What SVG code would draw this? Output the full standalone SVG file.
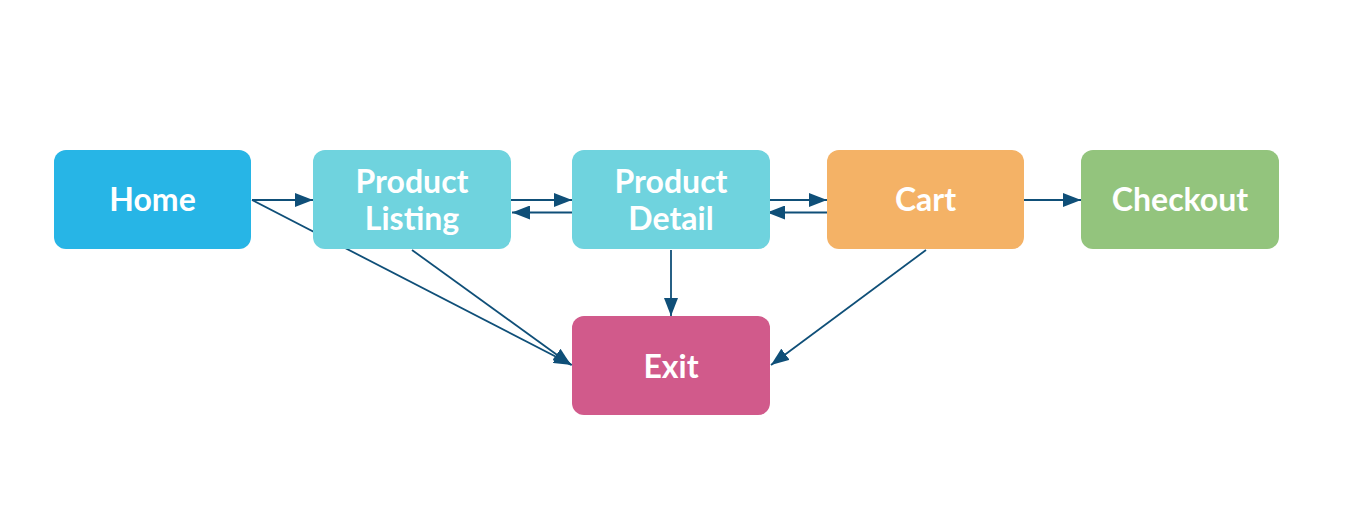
<svg xmlns="http://www.w3.org/2000/svg" width="1358" height="512" viewBox="0 0 1358 512">
<style>
.n rect{rx:12px;ry:12px}
.t{font-family:Lato,"Liberation Sans",sans-serif;font-weight:bold;font-size:32px;fill:#ffffff;text-anchor:middle}
.c line{stroke:#0f4f78;stroke-width:1.8;fill:none;marker-end:url(#ah)}
</style>
<defs>
<marker id="ah" viewBox="0 0 18 14" refX="18" refY="7" markerWidth="18" markerHeight="14" markerUnits="userSpaceOnUse" orient="auto">
<path d="M0,0 L18,7 L0,14 Z" fill="#0f4f78"/>
</marker>
</defs>
<rect width="1358" height="512" fill="#ffffff"/>
<g id="connectors" class="c">
<line x1="252" y1="200" x2="572" y2="365"/>
<line x1="412" y1="250" x2="571" y2="365"/>
<line x1="252" y1="200" x2="313" y2="200"/>
<line x1="511" y1="200" x2="572" y2="200"/>
<line x1="572" y1="212.5" x2="512" y2="212.5"/>
<line x1="770" y1="200" x2="827" y2="200"/>
<line x1="827" y1="212.5" x2="767" y2="212.5"/>
<line x1="1020" y1="200" x2="1081" y2="200"/>
<line x1="671" y1="250" x2="671" y2="316"/>
<line x1="926" y1="250" x2="771" y2="365"/>
</g>
<g id="home" class="n"><rect x="54" y="150" width="197" height="99" fill="#27b5e6"/><text class="t" x="152.5" y="211">Home</text></g>
<g id="product-listing" class="n"><rect x="313" y="150" width="198" height="99" fill="#6fd3de"/><text class="t" x="412" y="193">Product</text><text class="t" x="412" y="230">Listing</text></g>
<g id="product-detail" class="n"><rect x="572" y="150" width="198" height="99" fill="#6fd3de"/><text class="t" x="671" y="193">Product</text><text class="t" x="671" y="230">Detail</text></g>
<g id="cart" class="n"><rect x="827" y="150" width="197" height="99" fill="#f4b266"/><text class="t" x="925.5" y="211">Cart</text></g>
<g id="checkout" class="n"><rect x="1081" y="150" width="198" height="99" fill="#93c47d"/><text class="t" x="1180" y="211">Checkout</text></g>
<g id="exit" class="n"><rect x="572" y="316" width="198" height="99" fill="#d15a8b"/><text class="t" x="671" y="378">Exit</text></g>
</svg>
